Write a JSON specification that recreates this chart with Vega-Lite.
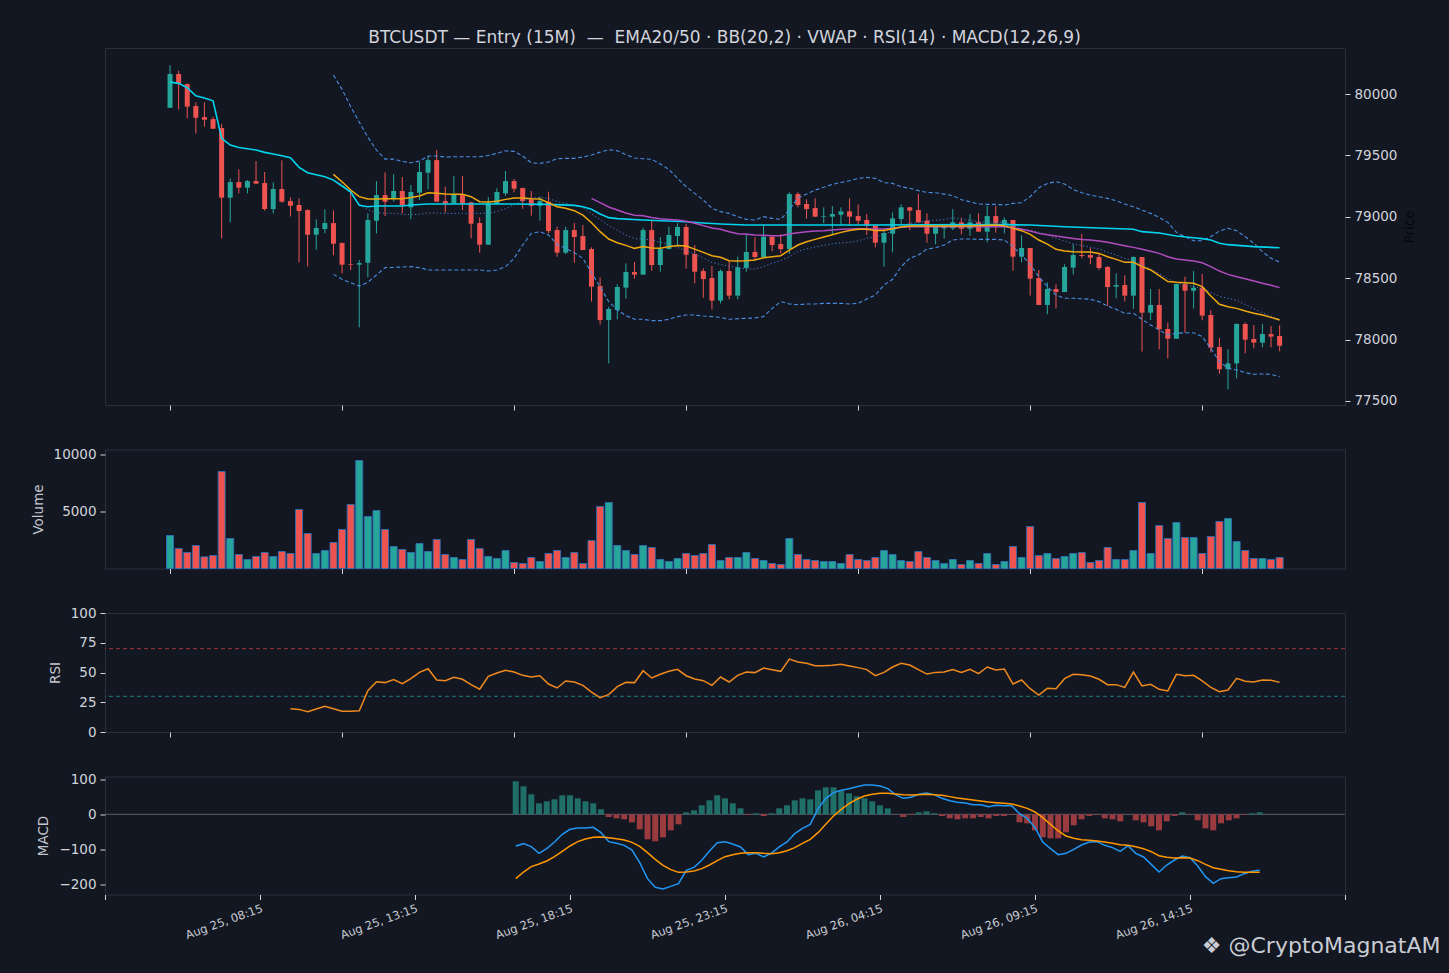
{
  "$schema": "https://vega.github.io/schema/vega-lite/v6.json",
  "background": "#131722",
  "padding": {"left": 30, "top": 28, "right": 32, "bottom": 16},
  "title": {
    "text": "BTCUSDT — Entry (15M) \u00a0— \u00a0EMA20/50 · BB(20,2) · VWAP · RSI(14) · MACD(12,26,9)",
    "color": "#d1d4dc", "fontSize": 17, "font": "DejaVu Sans", "fontWeight": "normal",
    "anchor": "middle", "offset": 1, "dx": -11
  },
  "config": {
    "view": {"stroke": "#2b2f3a", "fill": "#131722"},
    "font": "DejaVu Sans",
    "axis": {
      "domain": false, "grid": false,
      "labelColor": "#d1d4dc", "tickColor": "#d1d4dc",
      "labelFontSize": 13.5, "titleFontSize": 13.5, "titleColor": "#c3c6ce", "titleFontWeight": "normal",
      "tickSize": 5, "labelPadding": 4, "titlePadding": 8,
      "labelFont": "DejaVu Sans", "titleFont": "DejaVu Sans"
    }
  },
  "data": {
    "values": [
      {"i":0,"o":79888,"h":80236,"l":79888,"c":80163,"v":2895,"vw":80097},
      {"i":1,"o":80163,"h":80190,"l":79875,"c":80084,"v":1754,"vw":80087},
      {"i":2,"o":80081,"h":80087,"l":79802,"c":79897,"v":1404,"vw":80051},
      {"i":3,"o":79902,"h":79932,"l":79679,"c":79807,"v":2018,"vw":79986},
      {"i":4,"o":79812,"h":79932,"l":79734,"c":79791,"v":1023,"vw":79967},
      {"i":5,"o":79796,"h":79815,"l":79717,"c":79717,"v":1140,"vw":79945},
      {"i":6,"o":79723,"h":79755,"l":78824,"c":79156,"v":8509,"vw":79639},
      {"i":7,"o":79156,"h":79313,"l":78955,"c":79283,"v":2632,"vw":79584},
      {"i":8,"o":79283,"h":79386,"l":79191,"c":79237,"v":1228,"vw":79565},
      {"i":9,"o":79237,"h":79299,"l":79191,"c":79291,"v":789,"vw":79555},
      {"i":10,"o":79291,"h":79454,"l":79270,"c":79270,"v":1053,"vw":79544},
      {"i":11,"o":79275,"h":79365,"l":79050,"c":79063,"v":1404,"vw":79525},
      {"i":12,"o":79063,"h":79280,"l":79028,"c":79226,"v":1053,"vw":79511},
      {"i":13,"o":79226,"h":79460,"l":79115,"c":79123,"v":1491,"vw":79498},
      {"i":14,"o":79128,"h":79158,"l":79003,"c":79090,"v":1316,"vw":79481,"r":19.6},
      {"i":15,"o":79096,"h":79150,"l":78629,"c":79047,"v":5175,"vw":79403,"r":19.0},
      {"i":16,"o":79055,"h":79061,"l":78596,"c":78854,"v":3070,"vw":79359,"r":17.1},
      {"i":17,"o":78854,"h":78979,"l":78732,"c":78909,"v":1316,"vw":79343,"r":19.3},
      {"i":18,"o":78900,"h":79061,"l":78865,"c":78949,"v":1579,"vw":79327,"r":21.6},
      {"i":19,"o":78949,"h":79052,"l":78686,"c":78781,"v":2281,"vw":79299,"e20":79346,"bu":80154,"bm":79343,"bl":78531,"r":19.6},
      {"i":20,"o":78786,"h":78792,"l":78539,"c":78610,"v":3421,"vw":79251,"e20":79286,"bu":80038,"bm":79265,"bl":78491,"r":17.4},
      {"i":21,"o":78615,"h":79204,"l":78567,"c":78610,"v":5614,"vw":79204,"e20":79218,"bu":79897,"bm":79180,"bl":78463,"r":17.4},
      {"i":22,"o":78610,"h":78648,"l":78100,"c":78623,"v":9474,"vw":79093,"e20":79164,"bu":79772,"bm":79104,"bl":78436,"r":17.9},
      {"i":23,"o":78626,"h":79028,"l":78507,"c":78974,"v":4561,"vw":79082,"e20":79145,"bu":79647,"bm":79057,"bl":78466,"r":34.7},
      {"i":24,"o":78968,"h":79291,"l":78865,"c":79177,"v":5088,"vw":79088,"e20":79145,"bu":79544,"bm":79035,"bl":78526,"r":42.3},
      {"i":25,"o":79177,"h":79362,"l":79006,"c":79123,"v":3421,"vw":79088,"e20":79147,"bu":79470,"bm":79028,"bl":78586,"r":41.5},
      {"i":26,"o":79145,"h":79346,"l":79123,"c":79210,"v":1930,"vw":79088,"e20":79147,"bu":79470,"bm":79029,"bl":78588,"r":44.0},
      {"i":27,"o":79210,"h":79324,"l":79028,"c":79096,"v":1667,"vw":79088,"e20":79147,"bu":79451,"bm":79021,"bl":78591,"r":40.6},
      {"i":28,"o":79077,"h":79259,"l":78979,"c":79202,"v":1404,"vw":79096,"e20":79158,"bu":79440,"bm":79017,"bl":78594,"r":44.8},
      {"i":29,"o":79196,"h":79449,"l":79137,"c":79365,"v":2193,"e20":79169,"bu":79454,"bm":79020,"bl":78586,"r":50.1},
      {"i":30,"o":79359,"h":79495,"l":79223,"c":79462,"v":1491,"vw":79104,"e20":79196,"bu":79495,"bm":79031,"bl":78567,"r":53.2},
      {"i":31,"o":79462,"h":79544,"l":79123,"c":79123,"v":2544,"e20":79191,"bu":79495,"bm":79031,"bl":78567,"r":43.7},
      {"i":32,"o":79128,"h":79245,"l":79033,"c":79109,"v":1228,"e20":79185,"bu":79487,"bm":79027,"bl":78567,"r":43.1},
      {"i":33,"o":79109,"h":79332,"l":79109,"c":79183,"v":965,"e20":79183,"bu":79489,"bm":79028,"bl":78567,"r":45.9,"m":-90.5,"s":-183.8,"hs":94.3},
      {"i":34,"o":79183,"h":79332,"l":79055,"c":79109,"v":789,"e20":79183,"bu":79489,"bm":79028,"bl":78567,"r":44.3,"m":-83.8,"s":-164.8,"hs":80.0},
      {"i":35,"o":79118,"h":79123,"l":78824,"c":78944,"v":2544,"e20":79164,"bu":79489,"bm":79028,"bl":78567,"r":39.8,"m":-92.4,"s":-149.5,"hs":57.1},
      {"i":36,"o":78949,"h":78995,"l":78708,"c":78773,"v":1754,"e20":79123,"bu":79489,"bm":79028,"bl":78567,"r":35.9,"m":-111.4,"s":-141.9,"hs":31.4},
      {"i":37,"o":78773,"h":79161,"l":78773,"c":79109,"v":1053,"e20":79120,"bu":79500,"bm":79029,"bl":78558,"r":46.8,"m":-98.1,"s":-133.3,"hs":37.1},
      {"i":38,"o":79104,"h":79232,"l":79104,"c":79202,"v":877,"e20":79126,"bu":79517,"bm":79042,"bl":78567,"r":49.6,"m":-79.0,"s":-121.0,"hs":42.9},
      {"i":39,"o":79191,"h":79373,"l":79172,"c":79291,"v":1579,"e20":79142,"bu":79538,"bm":79066,"bl":78594,"r":51.8,"m":-57.1,"s":-105.7,"hs":54.3},
      {"i":40,"o":79291,"h":79308,"l":79199,"c":79229,"v":526,"vw":79104,"e20":79153,"bu":79533,"bm":79098,"bl":78662,"r":50.4,"m":-42.9,"s":-90.5,"hs":54.3},
      {"i":41,"o":79234,"h":79237,"l":79066,"c":79128,"v":439,"e20":79153,"bu":79495,"bm":79133,"bl":78770,"r":47.6,"m":-39.0,"s":-78.1,"hs":45.7},
      {"i":42,"o":79142,"h":79210,"l":79009,"c":79090,"v":965,"e20":79147,"bu":79440,"bm":79153,"bl":78865,"r":46.2,"m":-39.0,"s":-70.5,"hs":37.1},
      {"i":43,"o":79090,"h":79164,"l":78968,"c":79128,"v":614,"e20":79145,"bu":79435,"bm":79157,"bl":78879,"r":47.3,"m":-37.1,"s":-65.7,"hs":31.4},
      {"i":44,"o":79123,"h":79204,"l":78865,"c":78884,"v":1316,"vw":79101,"e20":79115,"bu":79446,"bm":79149,"bl":78852,"r":40.3,"m":-52.4,"s":-64.8,"hs":14.3},
      {"i":45,"o":78892,"h":78919,"l":78675,"c":78708,"v":1579,"e20":79082,"bu":79473,"bm":79125,"bl":78776,"r":37.0,"m":-78.1,"s":-66.7,"hs":-7.6},
      {"i":46,"o":78708,"h":78919,"l":78697,"c":78892,"v":965,"e20":79069,"bu":79476,"bm":79110,"bl":78743,"r":42.9,"m":-82.9,"s":-69.5,"hs":-11.4},
      {"i":47,"o":78892,"h":78949,"l":78626,"c":78835,"v":1404,"vw":79093,"e20":79050,"bu":79476,"bm":79092,"bl":78708,"r":42.0,"m":-88.6,"s":-73.3,"hs":-14.3},
      {"i":48,"o":78843,"h":78933,"l":78729,"c":78729,"v":439,"vw":79082,"e20":79014,"bu":79487,"bm":79075,"bl":78662,"r":39.2,"m":-101.9,"s":-80.0,"hs":-22.9},
      {"i":49,"o":78737,"h":78751,"l":78309,"c":78431,"v":2456,"vw":79061,"e20":78952,"e50":79150,"bu":79503,"bm":79024,"bl":78545,"r":33.6,"m":-138.1,"s":-91.4,"hs":-42.9},
      {"i":50,"o":78436,"h":78507,"l":78121,"c":78159,"v":5439,"vw":79023,"e20":78879,"e50":79115,"bu":79527,"bm":78979,"bl":78431,"r":28.9,"m":-183.8,"s":-109.5,"hs":-71.4},
      {"i":51,"o":78159,"h":78268,"l":77806,"c":78249,"v":5790,"vw":78993,"e20":78819,"e50":79080,"bu":79546,"bm":78928,"bl":78309,"r":31.4,"m":-208.6,"s":-128.6,"hs":-77.1},
      {"i":52,"o":78241,"h":78450,"l":78165,"c":78428,"v":2018,"vw":78985,"e20":78789,"e50":79055,"bu":79538,"bm":78890,"bl":78241,"r":38.1,"m":-213.3,"s":-145.7,"hs":-65.7},
      {"i":53,"o":78423,"h":78621,"l":78333,"c":78550,"v":1579,"e20":78767,"e50":79031,"bu":79506,"bm":78851,"bl":78195,"r":41.7,"m":-205.7,"s":-158.1,"hs":-45.7},
      {"i":54,"o":78550,"h":78632,"l":78496,"c":78529,"v":1228,"e20":78743,"e50":79012,"bu":79479,"bm":78822,"bl":78165,"r":41.5,"m":-198.1,"s":-165.7,"hs":-28.6},
      {"i":55,"o":78529,"h":78911,"l":78529,"c":78892,"v":2018,"vw":78974,"e20":78757,"e50":79009,"bu":79473,"bm":78819,"bl":78165,"r":51.5,"m":-160.0,"s":-164.8,"hs":5.7},
      {"i":56,"o":78892,"h":78974,"l":78561,"c":78607,"v":1842,"e20":78746,"e50":78995,"bu":79468,"bm":78811,"bl":78154,"r":45.4,"m":-151.4,"s":-161.9,"hs":11.4},
      {"i":57,"o":78607,"h":78835,"l":78553,"c":78737,"v":789,"e20":78743,"e50":78985,"bu":79430,"bm":78792,"bl":78154,"r":48.5,"m":-131.4,"s":-155.2,"hs":25.7},
      {"i":58,"o":78737,"h":78919,"l":78737,"c":78852,"v":614,"e20":78757,"e50":78979,"bu":79386,"bm":78776,"bl":78165,"r":51.0,"m":-104.8,"s":-144.8,"hs":40.0},
      {"i":59,"o":78843,"h":78947,"l":78767,"c":78917,"v":877,"e20":78767,"e50":78974,"bu":79313,"bm":78750,"bl":78187,"r":52.7,"m":-81.0,"s":-132.4,"hs":54.3},
      {"i":60,"o":78917,"h":78941,"l":78577,"c":78691,"v":1316,"vw":78960,"e20":78762,"e50":78963,"bu":79245,"bm":78723,"bl":78200,"r":47.3,"m":-78.1,"s":-121.0,"hs":45.7},
      {"i":61,"o":78697,"h":78770,"l":78458,"c":78553,"v":1140,"e20":78737,"e50":78947,"bu":79191,"bm":78696,"bl":78200,"r":44.5,"m":-84.8,"s":-115.2,"hs":31.4},
      {"i":62,"o":78558,"h":78580,"l":78341,"c":78493,"v":1316,"vw":78949,"e20":78710,"e50":78928,"bu":79137,"bm":78665,"bl":78192,"r":43.1,"m":-93.3,"s":-111.4,"hs":17.1},
      {"i":63,"o":78501,"h":78599,"l":78246,"c":78317,"v":2105,"e20":78683,"e50":78909,"bu":79069,"bm":78628,"bl":78187,"r":39.2,"m":-115.2,"s":-109.5,"hs":-1.9},
      {"i":64,"o":78317,"h":78572,"l":78295,"c":78558,"v":702,"vw":78941,"e20":78670,"e50":78898,"bu":79042,"bm":78612,"bl":78181,"r":46.2,"m":-111.4,"s":-109.5,"hs":2.9},
      {"i":65,"o":78558,"h":78640,"l":78328,"c":78358,"v":965,"e20":78642,"e50":78879,"bu":79028,"bm":78597,"bl":78165,"r":42.0,"m":-121.9,"s":-111.4,"hs":-4.8},
      {"i":66,"o":78358,"h":78675,"l":78328,"c":78588,"v":965,"e20":78640,"e50":78862,"bu":79001,"bm":78586,"bl":78170,"r":47.6,"m":-110.5,"s":-112.4,"hs":2.9},
      {"i":67,"o":78583,"h":78865,"l":78553,"c":78713,"v":1404,"vw":78933,"e20":78642,"e50":78857,"bu":78979,"bm":78576,"bl":78173,"r":50.4,"m":-93.3,"s":-109.5,"hs":17.1},
      {"i":68,"o":78713,"h":78833,"l":78648,"c":78672,"v":877,"e20":78648,"e50":78852,"bu":78974,"bm":78575,"bl":78176,"r":49.9,"m":-79.0,"s":-103.8,"hs":25.7},
      {"i":69,"o":78672,"h":78928,"l":78672,"c":78838,"v":702,"e20":78667,"e50":78849,"bu":79001,"bm":78594,"bl":78187,"r":53.8,"m":-55.2,"s":-95.2,"hs":40.0},
      {"i":70,"o":78838,"h":78838,"l":78719,"c":78770,"v":439,"e20":78675,"e50":78846,"bu":78987,"bm":78621,"bl":78254,"r":52.4,"m":-40.0,"s":-82.9,"hs":45.7},
      {"i":71,"o":78778,"h":78860,"l":78702,"c":78737,"v":351,"e20":78683,"e50":78846,"bu":78979,"bm":78644,"bl":78309,"r":51.0,"m":-28.6,"s":-71.4,"hs":42.9},
      {"i":72,"o":78737,"h":79199,"l":78697,"c":79185,"v":2632,"e20":78729,"e50":78860,"bu":79055,"bm":78673,"bl":78290,"r":61.3,"m":16.2,"s":-52.4,"hs":68.6},
      {"i":73,"o":79185,"h":79199,"l":79077,"c":79096,"v":1228,"e20":78770,"e50":78871,"bu":79156,"bm":78720,"bl":78284,"r":58.8,"m":44.8,"s":-28.6,"hs":77.1},
      {"i":74,"o":79104,"h":79142,"l":78985,"c":79063,"v":789,"e20":78797,"e50":78879,"bu":79185,"bm":78738,"bl":78290,"r":57.7,"m":61.9,"s":-4.8,"hs":77.1},
      {"i":75,"o":79071,"h":79150,"l":79001,"c":79001,"v":702,"e20":78816,"e50":78884,"bu":79218,"bm":78754,"bl":78290,"r":55.7,"m":68.6,"s":14.3,"hs":68.6},
      {"i":76,"o":79001,"h":79077,"l":78947,"c":79006,"v":614,"e20":78835,"e50":78887,"bu":79240,"bm":78768,"bl":78295,"r":55.7,"m":73.3,"s":30.5,"hs":60.0},
      {"i":77,"o":79001,"h":79088,"l":78860,"c":79023,"v":614,"e20":78854,"e50":78892,"bu":79264,"bm":78780,"bl":78295,"r":56.0,"m":79.0,"s":42.9,"hs":51.4},
      {"i":78,"o":79017,"h":79077,"l":78933,"c":79044,"v":439,"e20":78873,"e50":78898,"bu":79280,"bm":78788,"bl":78295,"r":56.9,"m":83.8,"s":52.4,"hs":45.7},
      {"i":79,"o":79044,"h":79150,"l":78925,"c":79001,"v":1228,"e20":78889,"e50":78900,"bu":79294,"bm":78792,"bl":78290,"r":55.5,"m":83.8,"s":57.1,"hs":37.1},
      {"i":80,"o":79006,"h":79101,"l":78938,"c":78968,"v":789,"vw":78933,"e20":78898,"e50":78903,"bu":79313,"bm":78804,"bl":78295,"r":54.1,"m":81.0,"s":60.0,"hs":25.7},
      {"i":81,"o":78974,"h":79023,"l":78852,"c":78928,"v":702,"e20":78898,"e50":78903,"bu":79321,"bm":78826,"bl":78330,"r":52.4,"m":73.3,"s":60.0,"hs":17.1},
      {"i":82,"o":78930,"h":78930,"l":78751,"c":78789,"v":965,"e20":78889,"e50":78900,"bu":79313,"bm":78838,"bl":78363,"r":47.3,"m":56.2,"s":58.1,"hs":0},
      {"i":83,"o":78789,"h":78884,"l":78594,"c":78868,"v":1579,"e20":78889,"e50":78900,"bu":79278,"bm":78861,"bl":78444,"r":50.1,"m":45.7,"s":56.2,"hs":-7.6},
      {"i":84,"o":78862,"h":79036,"l":78711,"c":78987,"v":1228,"e20":78903,"e50":78906,"bu":79272,"bm":78882,"bl":78491,"r":54.6,"m":48.6,"s":55.2,"hs":-1.9},
      {"i":85,"o":78982,"h":79101,"l":78930,"c":79077,"v":702,"e20":78917,"e50":78914,"bu":79245,"bm":78920,"bl":78594,"r":57.7,"m":57.1,"s":56.2,"hs":5.7},
      {"i":86,"o":79077,"h":79082,"l":78892,"c":79050,"v":614,"e20":78925,"e50":78919,"bu":79232,"bm":78947,"bl":78662,"r":56.3,"m":61.0,"s":57.1,"hs":8.6},
      {"i":87,"o":79055,"h":79185,"l":78955,"c":78955,"v":1491,"e20":78925,"bu":79213,"bm":78951,"bl":78689,"r":52.4,"m":56.2,"s":56.2,"hs":2.9},
      {"i":88,"o":78968,"h":79028,"l":78789,"c":78862,"v":965,"bu":79199,"bm":78968,"bl":78737,"r":48.7,"m":45.7,"s":54.3,"hs":-4.8},
      {"i":89,"o":78862,"h":78938,"l":78776,"c":78919,"v":702,"bu":79196,"bm":78972,"bl":78748,"r":50.1,"m":39.0,"s":50.5,"hs":-11.4},
      {"i":90,"o":78906,"h":78941,"l":78822,"c":78917,"v":439,"e20":78925,"e50":78919,"bu":79185,"bm":78978,"bl":78770,"r":50.4,"m":34.3,"s":46.7,"hs":-14.3},
      {"i":91,"o":78906,"h":79063,"l":78892,"c":78955,"v":789,"bu":79172,"bm":78992,"bl":78811,"r":52.4,"m":32.4,"s":43.8,"hs":-11.4},
      {"i":92,"o":78955,"h":78993,"l":78857,"c":78903,"v":351,"bu":79139,"bm":78979,"bl":78819,"r":50.1,"m":27.6,"s":41.0,"hs":-11.4},
      {"i":93,"o":78903,"h":79023,"l":78846,"c":78955,"v":702,"e20":78925,"bu":79123,"bm":78971,"bl":78819,"r":52.7,"m":27.6,"s":38.1,"hs":-7.6},
      {"i":94,"o":78955,"h":79028,"l":78879,"c":78879,"v":439,"e50":78919,"bu":79104,"bm":78960,"bl":78816,"r":49.0,"m":21.9,"s":35.2,"hs":-11.4},
      {"i":95,"o":78879,"h":79090,"l":78792,"c":79006,"v":1316,"bu":79101,"bm":78959,"bl":78816,"r":54.6,"m":25.7,"s":33.3,"hs":-4.8},
      {"i":96,"o":79006,"h":79088,"l":78871,"c":78947,"v":351,"vw":78936,"e20":78933,"bu":79101,"bm":78959,"bl":78816,"r":52.1,"m":24.8,"s":31.4,"hs":-4.8},
      {"i":97,"o":78941,"h":78995,"l":78865,"c":78974,"v":614,"e20":78928,"e50":78919,"bu":79096,"bm":78954,"bl":78811,"r":52.9,"m":24.8,"s":29.5,"hs":-1.9},
      {"i":98,"o":78974,"h":78974,"l":78561,"c":78675,"v":1930,"e20":78906,"e50":78911,"bu":79109,"bm":78933,"bl":78757,"r":40.3,"m":1.9,"s":23.8,"hs":-22.9},
      {"i":99,"o":78675,"h":78849,"l":78629,"c":78746,"v":965,"e20":78887,"e50":78898,"bu":79115,"bm":78902,"bl":78689,"r":43.7,"m":-11.4,"s":17.1,"hs":-25.7},
      {"i":100,"o":78746,"h":78746,"l":78358,"c":78496,"v":3684,"vw":78933,"e20":78857,"e50":78884,"bu":79164,"bm":78889,"bl":78613,"r":36.4,"m":-38.1,"s":6.7,"hs":-45.7},
      {"i":101,"o":78501,"h":78567,"l":78282,"c":78282,"v":1140,"e20":78811,"e50":78865,"bu":79237,"bm":78875,"bl":78512,"r":31.1,"m":-79.0,"s":-9.5,"hs":-65.7},
      {"i":102,"o":78282,"h":78466,"l":78206,"c":78412,"v":1316,"e20":78778,"e50":78854,"bu":79272,"bm":78852,"bl":78431,"r":36.7,"m":-98.1,"s":-28.6,"hs":-68.6},
      {"i":103,"o":78412,"h":78450,"l":78254,"c":78387,"v":877,"e20":78735,"e50":78843,"bu":79286,"bm":78825,"bl":78363,"r":36.4,"m":-115.2,"s":-47.6,"hs":-68.6},
      {"i":104,"o":78387,"h":78613,"l":78387,"c":78591,"v":1053,"vw":78919,"e20":78721,"e50":78833,"bu":79267,"bm":78802,"bl":78336,"r":44.8,"m":-111.4,"s":-61.9,"hs":-51.4},
      {"i":105,"o":78586,"h":78776,"l":78531,"c":78689,"v":1316,"e20":78716,"e50":78824,"bu":79223,"bm":78780,"bl":78336,"r":48.5,"m":-100.0,"s":-68.6,"hs":-31.4},
      {"i":106,"o":78689,"h":78860,"l":78662,"c":78681,"v":1404,"e20":78713,"e50":78816,"bu":79196,"bm":78765,"bl":78333,"r":48.2,"m":-87.6,"s":-72.4,"hs":-14.3},
      {"i":107,"o":78689,"h":78748,"l":78613,"c":78667,"v":526,"e20":78713,"e50":78811,"bu":79177,"bm":78753,"bl":78328,"r":47.1,"m":-79.0,"s":-74.3,"hs":-4.8},
      {"i":108,"o":78672,"h":78697,"l":78567,"c":78583,"v":702,"vw":78909,"e20":78702,"e50":78803,"bu":79164,"bm":78737,"bl":78309,"r":44.3,"m":-78.1,"s":-76.2,"hs":-1.9},
      {"i":109,"o":78591,"h":78599,"l":78273,"c":78428,"v":1842,"e20":78675,"e50":78792,"bu":79150,"bm":78712,"bl":78273,"r":39.8,"m":-88.6,"s":-79.0,"hs":-11.4},
      {"i":110,"o":78431,"h":78539,"l":78336,"c":78444,"v":789,"e20":78653,"e50":78778,"bu":79131,"bm":78689,"bl":78246,"r":39.8,"m":-95.2,"s":-82.9,"hs":-14.3},
      {"i":111,"o":78444,"h":78523,"l":78309,"c":78358,"v":789,"e20":78629,"e50":78765,"bu":79104,"bm":78659,"bl":78214,"r":37.5,"m":-105.7,"s":-86.7,"hs":-20.0},
      {"i":112,"o":78358,"h":78678,"l":78249,"c":78672,"v":1579,"vw":78898,"e20":78629,"e50":78751,"bu":79082,"bm":78648,"bl":78214,"r":50.4,"m":-89.5,"s":-88.6,"hs":-0.5},
      {"i":113,"o":78672,"h":78672,"l":77902,"c":78219,"v":5790,"vw":78879,"e20":78594,"e50":78735,"bu":79055,"bm":78610,"bl":78165,"r":38.7,"m":-111.4,"s":-92.4,"hs":-17.1},
      {"i":114,"o":78219,"h":78412,"l":78159,"c":78282,"v":1316,"e20":78567,"e50":78719,"bu":79028,"bm":78574,"bl":78119,"r":40.1,"m":-121.9,"s":-98.1,"hs":-22.9},
      {"i":115,"o":78282,"h":78412,"l":77921,"c":78083,"v":3772,"vw":78868,"e20":78520,"e50":78702,"bu":78995,"bm":78537,"bl":78078,"r":35.9,"m":-142.9,"s":-106.7,"hs":-34.3},
      {"i":116,"o":78086,"h":78138,"l":77847,"c":78007,"v":2632,"e20":78472,"e50":78675,"bu":78955,"bm":78496,"bl":78037,"r":34.5,"m":-164.8,"s":-118.1,"hs":-45.7},
      {"i":117,"o":78007,"h":78453,"l":78007,"c":78453,"v":4035,"vw":78843,"e20":78466,"e50":78656,"bu":78873,"bm":78462,"bl":78051,"r":48.5,"m":-144.8,"s":-122.9,"hs":-20.0},
      {"i":118,"o":78453,"h":78512,"l":78056,"c":78398,"v":2719,"e20":78463,"e50":78648,"bu":78838,"bm":78447,"bl":78056,"r":47.3,"m":-130.5,"s":-124.8,"hs":-4.8},
      {"i":119,"o":78398,"h":78558,"l":78254,"c":78423,"v":2719,"vw":78830,"e20":78458,"e50":78640,"bu":78805,"bm":78431,"bl":78056,"r":47.6,"m":-119.0,"s":-123.8,"hs":5.7},
      {"i":120,"o":78423,"h":78534,"l":78157,"c":78195,"v":1316,"vw":78822,"e20":78431,"e50":78626,"bu":78805,"bm":78415,"bl":78024,"r":42.9,"m":-123.8,"s":-124.8,"hs":-0.5},
      {"i":121,"o":78200,"h":78241,"l":77896,"c":77934,"v":2807,"vw":78811,"e20":78355,"e50":78594,"bu":78838,"bm":78384,"bl":77929,"r":37.5,"m":-147.6,"s":-132.4,"hs":-17.1},
      {"i":122,"o":77940,"h":78013,"l":77720,"c":77758,"v":4123,"vw":78784,"e20":78287,"e50":78558,"bu":78884,"bm":78352,"bl":77820,"r":33.9,"m":-178.1,"s":-142.9,"hs":-40.0},
      {"i":123,"o":77758,"h":77921,"l":77595,"c":77806,"v":4386,"vw":78773,"e20":78268,"e50":78531,"bu":78906,"bm":78336,"bl":77766,"r":35.3,"m":-197.1,"s":-152.4,"hs":-45.7},
      {"i":124,"o":77806,"h":78132,"l":77684,"c":78127,"v":2368,"e20":78254,"e50":78512,"bu":78887,"bm":78320,"bl":77752,"r":45.1,"m":-183.8,"s":-157.1,"hs":-25.7},
      {"i":125,"o":78127,"h":78140,"l":77888,"c":77999,"v":1579,"e20":78233,"e50":78496,"bu":78838,"bm":78285,"bl":77731,"r":42.6,"m":-181.0,"s":-161.0,"hs":-17.1},
      {"i":126,"o":78005,"h":78119,"l":77929,"c":77975,"v":877,"vw":78757,"e20":78214,"e50":78477,"bu":78784,"bm":78251,"bl":77717,"r":42.0,"m":-179.0,"s":-163.8,"hs":-11.4},
      {"i":127,"o":77975,"h":78127,"l":77937,"c":78045,"v":877,"e20":78200,"e50":78458,"bu":78716,"bm":78218,"bl":77720,"r":43.7,"m":-169.5,"s":-165.7,"hs":-1.9},
      {"i":128,"o":78045,"h":78111,"l":77937,"c":78024,"v":789,"e20":78181,"e50":78442,"bu":78662,"bm":78190,"bl":77717,"r":43.4,"m":-162.9,"s":-165.7,"hs":2.9},
      {"i":129,"o":78029,"h":78116,"l":77904,"c":77950,"v":965,"vw":78748,"e20":78159,"e50":78423,"bu":78632,"bm":78165,"bl":77698,"r":41.7,"m":-160.0,"s":-165.7,"hs":5.7}
    ]
  },
  "bounds": "flush",
  "spacing": 44.5,
  "resolve": {"scale": {"x": "independent", "y": "independent"}},
  "vconcat": [
    {
      "width": 1240,
      "height": 357,
      "encoding": {
        "x": {"field": "i", "type": "quantitative", "scale": {"domain": [-7.56, 136.6], "nice": false, "zero": false, "padding": 0},
              "axis": {"values": [0, 20, 40, 60, 80, 100, 120], "labels": false, "title": null}}
      },
      "layer": [
        {
          "mark": {"type": "rule", "strokeWidth": 1},
          "encoding": {
            "y": {"field": "l", "type": "quantitative", "scale": {"domain": [77467, 80375], "nice": false, "zero": false},
                  "axis": {"orient": "right", "values": [77500, 78000, 78500, 79000, 79500, 80000], "format": "d",
                           "title": "Price", "titleColor": "#06070a", "titleAngle": 270, "titleBaseline": "top", "titlePadding": 6}},
            "y2": {"field": "h"},
            "color": {"condition": {"test": "datum.c >= datum.o", "value": "#26a69a"}, "value": "#ef5350"}
          }
        },
        {
          "mark": {"type": "bar", "size": 5, "orient": "vertical"},
          "encoding": {
            "y": {"field": "o", "type": "quantitative", "scale": {"domain": [77467, 80375], "nice": false, "zero": false},
                  "axis": {"orient": "right", "values": [77500, 78000, 78500, 79000, 79500, 80000], "format": "d",
                           "title": "Price", "titleColor": "#06070a", "titleAngle": 270, "titleBaseline": "top", "titlePadding": 6}},
            "y2": {"field": "c"},
            "color": {"condition": {"test": "datum.c >= datum.o", "value": "#26a69a"}, "value": "#ef5350"}
          }
        },
        {
          "transform": [{"filter": "isValid(datum.bu)"}],
          "mark": {"type": "line", "color": "#4a8ee0", "strokeWidth": 1.1, "strokeDash": [4, 2.5]},
          "encoding": {"y": {"field": "bu", "type": "quantitative", "scale": {"domain": [77467, 80375], "nice": false, "zero": false},
                             "axis": {"orient": "right", "values": [77500, 78000, 78500, 79000, 79500, 80000], "format": "d",
                                      "title": "Price", "titleColor": "#06070a", "titleAngle": 270, "titleBaseline": "top", "titlePadding": 6}}}
        },
        {
          "transform": [{"filter": "isValid(datum.bl)"}],
          "mark": {"type": "line", "color": "#4a8ee0", "strokeWidth": 1.1, "strokeDash": [4, 2.5]},
          "encoding": {"y": {"field": "bl", "type": "quantitative", "scale": {"domain": [77467, 80375], "nice": false, "zero": false},
                             "axis": {"orient": "right", "values": [77500, 78000, 78500, 79000, 79500, 80000], "format": "d",
                                      "title": "Price", "titleColor": "#06070a", "titleAngle": 270, "titleBaseline": "top", "titlePadding": 6}}}
        },
        {
          "transform": [{"filter": "isValid(datum.bm)"}],
          "mark": {"type": "line", "color": "#4a7fc8", "strokeWidth": 1, "strokeDash": [1.2, 2.4]},
          "encoding": {"y": {"field": "bm", "type": "quantitative", "scale": {"domain": [77467, 80375], "nice": false, "zero": false},
                             "axis": {"orient": "right", "values": [77500, 78000, 78500, 79000, 79500, 80000], "format": "d",
                                      "title": "Price", "titleColor": "#06070a", "titleAngle": 270, "titleBaseline": "top", "titlePadding": 6}}}
        },
        {
          "transform": [{"filter": "isValid(datum.vw)"}],
          "mark": {"type": "line", "color": "#00d4ee", "strokeWidth": 1.6},
          "encoding": {"y": {"field": "vw", "type": "quantitative", "scale": {"domain": [77467, 80375], "nice": false, "zero": false},
                             "axis": {"orient": "right", "values": [77500, 78000, 78500, 79000, 79500, 80000], "format": "d",
                                      "title": "Price", "titleColor": "#06070a", "titleAngle": 270, "titleBaseline": "top", "titlePadding": 6}}}
        },
        {
          "transform": [{"filter": "isValid(datum.e50)"}],
          "mark": {"type": "line", "color": "#b04cc0", "strokeWidth": 1.5},
          "encoding": {"y": {"field": "e50", "type": "quantitative", "scale": {"domain": [77467, 80375], "nice": false, "zero": false},
                             "axis": {"orient": "right", "values": [77500, 78000, 78500, 79000, 79500, 80000], "format": "d",
                                      "title": "Price", "titleColor": "#06070a", "titleAngle": 270, "titleBaseline": "top", "titlePadding": 6}}}
        },
        {
          "transform": [{"filter": "isValid(datum.e20)"}],
          "mark": {"type": "line", "color": "#f0a80e", "strokeWidth": 1.5},
          "encoding": {"y": {"field": "e20", "type": "quantitative", "scale": {"domain": [77467, 80375], "nice": false, "zero": false},
                             "axis": {"orient": "right", "values": [77500, 78000, 78500, 79000, 79500, 80000], "format": "d",
                                      "title": "Price", "titleColor": "#06070a", "titleAngle": 270, "titleBaseline": "top", "titlePadding": 6}}}
        }
      ]
    },
    {
      "width": 1240,
      "height": 119,
      "mark": {"type": "bar", "size": 7, "orient": "vertical", "stroke": "#2f6fb3", "strokeWidth": 0.9},
      "encoding": {
        "x": {"field": "i", "type": "quantitative", "scale": {"domain": [-7.56, 136.6], "nice": false, "zero": false, "padding": 0},
              "axis": {"values": [0, 20, 40, 60, 80, 100, 120], "labels": false, "title": null}},
        "y": {"field": "v", "type": "quantitative", "scale": {"domain": [0, 10440], "nice": false},
              "axis": {"values": [5000, 10000], "format": "d", "title": "Volume"}},
        "y2": {"datum": 0},
        "color": {"condition": {"test": "datum.c >= datum.o", "value": "#26a69a"}, "value": "#ef5350"}
      }
    },
    {
      "width": 1240,
      "height": 119,
      "layer": [
        {
          "data": {"values": [{"lvl": 70}, {"lvl": 30}]},
          "mark": {"type": "rule", "strokeDash": [4, 3], "strokeWidth": 1},
          "encoding": {
            "y": {"field": "lvl", "type": "quantitative", "scale": {"domain": [0, 100], "nice": false},
                  "axis": {"values": [0, 25, 50, 75, 100], "format": "d", "title": "RSI"}},
            "color": {"condition": {"test": "datum.lvl > 50", "value": "#a8363c"}, "value": "#1e7f80"}
          }
        },
        {
          "transform": [{"filter": "isValid(datum.r)"}],
          "mark": {"type": "line", "color": "#f08a1e", "strokeWidth": 1.5},
          "encoding": {
            "x": {"field": "i", "type": "quantitative", "scale": {"domain": [-7.56, 136.6], "nice": false, "zero": false, "padding": 0},
                  "axis": {"values": [0, 20, 40, 60, 80, 100, 120], "labels": false, "title": null}},
            "y": {"field": "r", "type": "quantitative", "scale": {"domain": [0, 100], "nice": false},
                  "axis": {"values": [0, 25, 50, 75, 100], "format": "d", "title": "RSI"}}
          }
        }
      ]
    },
    {
      "width": 1240,
      "height": 118,
      "layer": [
        {
          "data": {"values": [{"z": 0}]},
          "mark": {"type": "rule", "color": "#5b5e68", "strokeWidth": 1},
          "encoding": {
            "y": {"field": "z", "type": "quantitative", "scale": {"domain": [-229, 108], "nice": false, "zero": false},
                  "axis": {"values": [-200, -100, 0, 100], "format": "d", "title": "MACD"}}
          }
        },
        {
          "transform": [{"filter": "isValid(datum.hs)"}],
          "mark": {"type": "bar", "size": 6, "orient": "vertical"},
          "encoding": {
            "x": {"field": "i", "type": "quantitative", "scale": {"domain": [-20, 140], "nice": false, "zero": false, "padding": 0},
                  "axis": {"values": [-20, 0, 20, 40, 60, 80, 100, 120, 140],
                           "labelExpr": "['', 'Aug 25, 08:15', 'Aug 25, 13:15', 'Aug 25, 18:15', 'Aug 25, 23:15', 'Aug 26, 04:15', 'Aug 26, 09:15', 'Aug 26, 14:15', ''][round((datum.value + 20) / 20)]",
                           "labelAngle": -20, "labelAlign": "right", "labelBaseline": "top", "labelFontSize": 11.5,
                           "labelColor": "#c8cbd2", "labelPadding": 3, "labelOverlap": false, "labelFlush": false,
                           "title": "❖ @CryptoMagnatAM", "titleFontSize": 22, "titleColor": "#c9ccd3",
                           "titleAnchor": "end", "titleAlign": "right", "titleBaseline": "middle", "titleX": 1335, "titleY": 51}},
            "y": {"field": "hs", "type": "quantitative", "scale": {"domain": [-229, 108], "nice": false, "zero": false},
                  "axis": {"values": [-200, -100, 0, 100], "format": "d", "title": "MACD"}},
            "y2": {"datum": 0},
            "color": {"condition": {"test": "datum.hs >= 0", "value": "#1f6e68"}, "value": "#9a3b3f"}
          }
        },
        {
          "transform": [{"filter": "isValid(datum.m)"}],
          "mark": {"type": "line", "color": "#2196f3", "strokeWidth": 1.5},
          "encoding": {
            "x": {"field": "i", "type": "quantitative", "scale": {"domain": [-20, 140], "nice": false, "zero": false, "padding": 0},
                  "axis": {"values": [-20, 0, 20, 40, 60, 80, 100, 120, 140],
                           "labelExpr": "['', 'Aug 25, 08:15', 'Aug 25, 13:15', 'Aug 25, 18:15', 'Aug 25, 23:15', 'Aug 26, 04:15', 'Aug 26, 09:15', 'Aug 26, 14:15', ''][round((datum.value + 20) / 20)]",
                           "labelAngle": -20, "labelAlign": "right", "labelBaseline": "top", "labelFontSize": 11.5,
                           "labelColor": "#c8cbd2", "labelPadding": 3, "labelOverlap": false, "labelFlush": false,
                           "title": "❖ @CryptoMagnatAM", "titleFontSize": 22, "titleColor": "#c9ccd3",
                           "titleAnchor": "end", "titleAlign": "right", "titleBaseline": "middle", "titleX": 1335, "titleY": 51}},
            "y": {"field": "m", "type": "quantitative", "scale": {"domain": [-229, 108], "nice": false, "zero": false},
                  "axis": {"values": [-200, -100, 0, 100], "format": "d", "title": "MACD"}}
          }
        },
        {
          "transform": [{"filter": "isValid(datum.s)"}],
          "mark": {"type": "line", "color": "#ff9800", "strokeWidth": 1.5},
          "encoding": {
            "x": {"field": "i", "type": "quantitative", "scale": {"domain": [-20, 140], "nice": false, "zero": false, "padding": 0},
                  "axis": {"values": [-20, 0, 20, 40, 60, 80, 100, 120, 140],
                           "labelExpr": "['', 'Aug 25, 08:15', 'Aug 25, 13:15', 'Aug 25, 18:15', 'Aug 25, 23:15', 'Aug 26, 04:15', 'Aug 26, 09:15', 'Aug 26, 14:15', ''][round((datum.value + 20) / 20)]",
                           "labelAngle": -20, "labelAlign": "right", "labelBaseline": "top", "labelFontSize": 11.5,
                           "labelColor": "#c8cbd2", "labelPadding": 3, "labelOverlap": false, "labelFlush": false,
                           "title": "❖ @CryptoMagnatAM", "titleFontSize": 22, "titleColor": "#c9ccd3",
                           "titleAnchor": "end", "titleAlign": "right", "titleBaseline": "middle", "titleX": 1335, "titleY": 51}},
            "y": {"field": "s", "type": "quantitative", "scale": {"domain": [-229, 108], "nice": false, "zero": false},
                  "axis": {"values": [-200, -100, 0, 100], "format": "d", "title": "MACD"}}
          }
        }
      ]
    }
  ]
}
